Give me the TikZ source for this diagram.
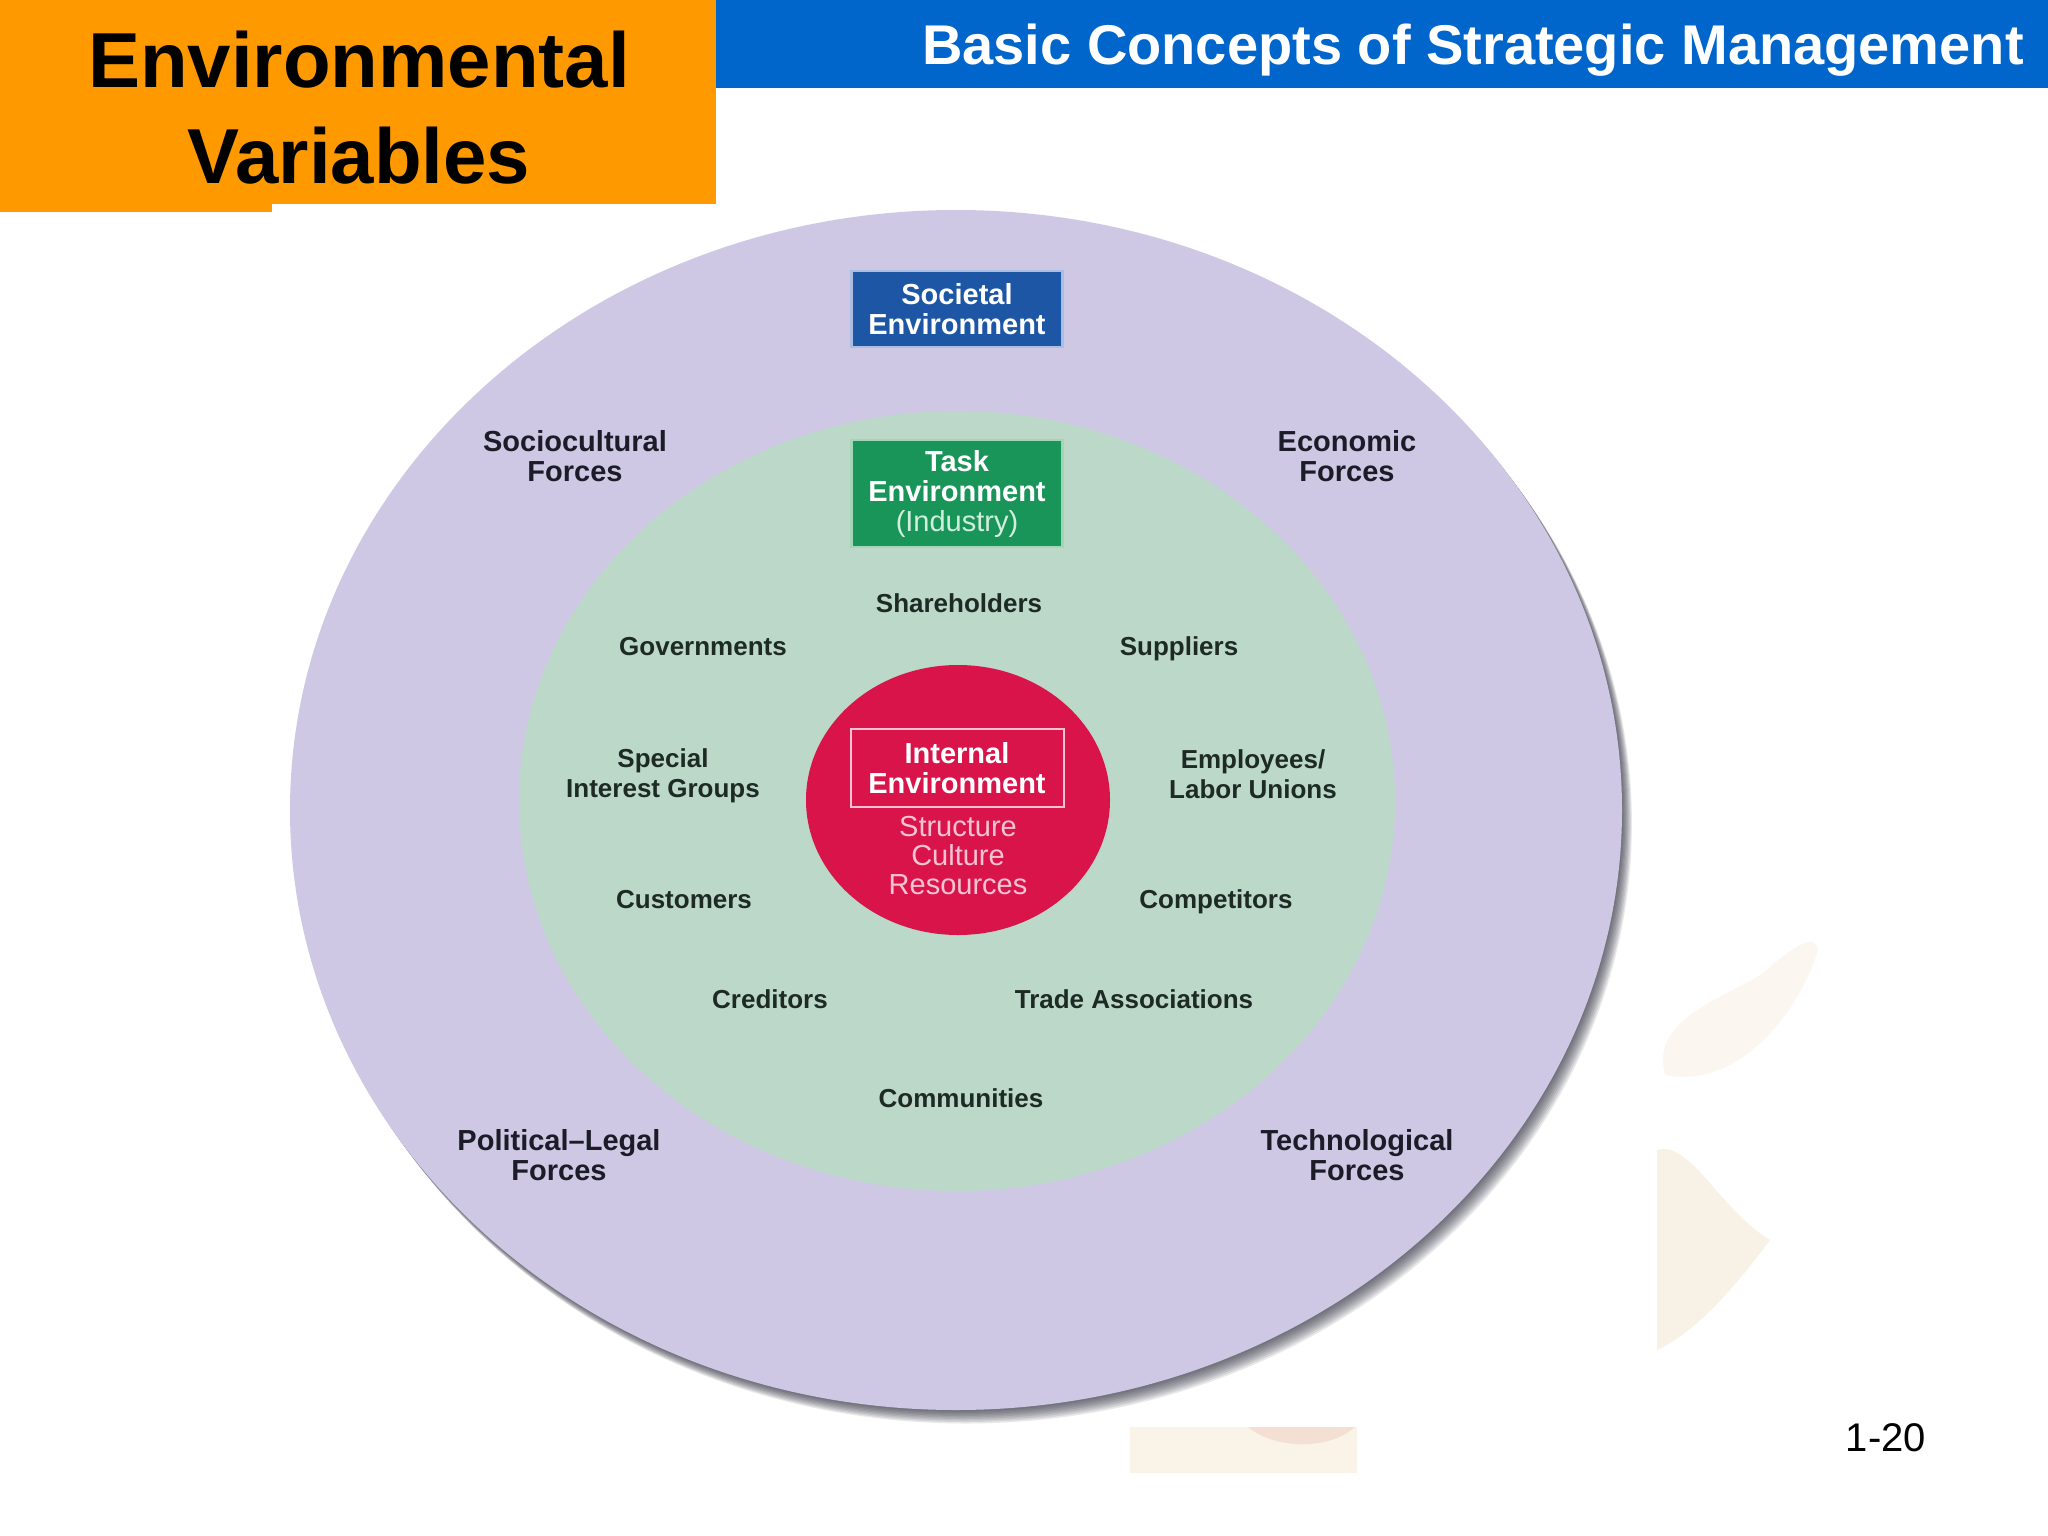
\documentclass[tikz,border=0pt]{standalone}
\usepackage{fontspec}
\setmainfont{Liberation Sans}
\definecolor{hdorange}{HTML}{FF9900}
\definecolor{hdblue}{HTML}{0066CC}
\definecolor{ringpurple}{HTML}{CEC8E4}
\definecolor{ringgreen}{HTML}{BCD8C9}
\definecolor{corered}{HTML}{D8144B}
\definecolor{socblue}{HTML}{1D56A5}
\definecolor{socedge}{HTML}{A9BEE2}
\definecolor{taskgreen}{HTML}{1A955A}
\definecolor{taskedge}{HTML}{A3D6B8}
\definecolor{labdark}{HTML}{1C1C28}
\definecolor{labgreen}{HTML}{1E2A24}
\definecolor{pinktext}{HTML}{F8C4D2}
\definecolor{indtext}{HTML}{D2EEDC}
\definecolor{shadowc}{HTML}{2E2E3E}
\definecolor{beige}{HTML}{F2E5CC}
\tikzset{
  outerlab/.style={font=\bfseries\fontsize{29}{30}\selectfont, text=labdark, align=center, inner sep=0},
  innerlab/.style={font=\bfseries\fontsize{26}{30}\selectfont, text=labgreen, align=center, inner sep=0},
  envbox/.style={font=\bfseries\fontsize{29}{30}\selectfont, text=white, align=center, inner sep=0,
    minimum width=211, minimum height=76, line width=2.5},
}
\begin{document}
\begin{tikzpicture}[x=1pt,y=-1pt]
\useasboundingbox (0,0) rectangle (2048,1536);
\fill[white] (0,0) rectangle (2048,1536);

% faint background blobs
\fill[beige, opacity=0.28] (1665,1075) .. controls (1650,1020) and (1720,1000) .. (1760,975)
   .. controls (1790,950) and (1815,930) .. (1818,950) .. controls (1800,1010) and (1740,1090) .. (1665,1075) -- cycle;
\fill[beige, opacity=0.5] (1657,1150) .. controls (1690,1140) and (1720,1210) .. (1770,1240)
   .. controls (1740,1280) and (1700,1330) .. (1657,1350) -- cycle;
\fill[beige, opacity=0.45] (1130,1427) rectangle (1357,1473);
\fill[corered!20!beige, opacity=0.35] (1248,1427) .. controls (1275,1450) and (1330,1450) .. (1355,1427) -- cycle;

% header
\fill[hdorange] (0,0) rectangle (716,204);
\fill[hdorange] (0,204) rectangle (272,212);
\fill[hdblue] (716,0) rectangle (2048,88);
\node[font=\bfseries\fontsize{78}{80}\selectfont, anchor=base, inner sep=0] (t1) at (359,88) {Environmental};
\node[font=\bfseries\fontsize{78}{80}\selectfont, anchor=base, inner sep=0] (t2) at (359,183) {Variables};
\node[font=\bfseries\fontsize{56}{60}\selectfont, text=white, anchor=base east, inner sep=0] (title) at (2024,65) {Basic Concepts of Strategic Management};

% outer ring with shadow
\foreach \d in {2,4,...,18} {
  \fill[shadowc, opacity=0.11] (956+\d*0.55,810+\d*0.75) ellipse [x radius=666, y radius=600];
}
\fill[ringpurple] (956,810) ellipse [x radius=666, y radius=600];
\node[circle, minimum size=1, inner sep=0] (outer) at (956,810) {};
% task ring
\fill[ringgreen] (957,801) ellipse [x radius=438, y radius=390];
\node[circle, minimum size=1, inner sep=0] (taskring) at (957,801) {};
% internal core
\fill[corered] (958,800) ellipse [x radius=152, y radius=135];
\node[circle, minimum size=1, inner sep=0] (core) at (958,800) {};

% environment boxes
\node[envbox, fill=socblue, draw=socedge] (soc) at (957,309) {Societal\\Environment};
\node[envbox, fill=taskgreen, draw=taskedge, minimum height=107] (task) at (957,493.5)
  {Task\\Environment\\{\mdseries\color{indtext}(Industry)}};
\node[envbox, draw=white!75!corered, line width=2, minimum width=213, minimum height=78] (internal) at (957,768)
  {Internal\\Environment};
\node[font=\fontsize{29}{29}\selectfont, text=pinktext, align=center, inner sep=0] (scr) at (958,856)
  {Structure\\Culture\\Resources};

% societal forces
\node[outerlab] (socio) at (575,456.5) {Sociocultural\\Forces};
\node[outerlab] (econ) at (1347,456.5) {Economic\\Forces};
\node[outerlab] (polit) at (559,1155.5) {Political--Legal\\Forces};
\node[outerlab] (tech) at (1357,1155.5) {Technological\\Forces};

% task environment actors
\node[innerlab, anchor=base] (share) at (959,612) {Shareholders};
\node[innerlab, anchor=base] (gov) at (703,655) {Governments};
\node[innerlab, anchor=base] (supp) at (1179,655) {Suppliers};
\node[innerlab] (sig) at (663,776) {Special\\Interest Groups};
\node[innerlab] (emp) at (1253,774) {Employees/\\Labor Unions};
\node[innerlab, anchor=base] (cust) at (684,908) {Customers};
\node[innerlab, anchor=base] (comp) at (1216,908) {Competitors};
\node[innerlab, anchor=base] (cred) at (770,1008) {Creditors};
\node[innerlab, anchor=base] (trade) at (1134,1008) {Trade Associations};
\node[innerlab, anchor=base] (comm) at (961,1107) {Communities};

% slide number
\node[font=\fontsize{40}{40}\selectfont, anchor=base, inner sep=0] (pg) at (1886,1451) {1-20};
\end{tikzpicture}
\end{document}
